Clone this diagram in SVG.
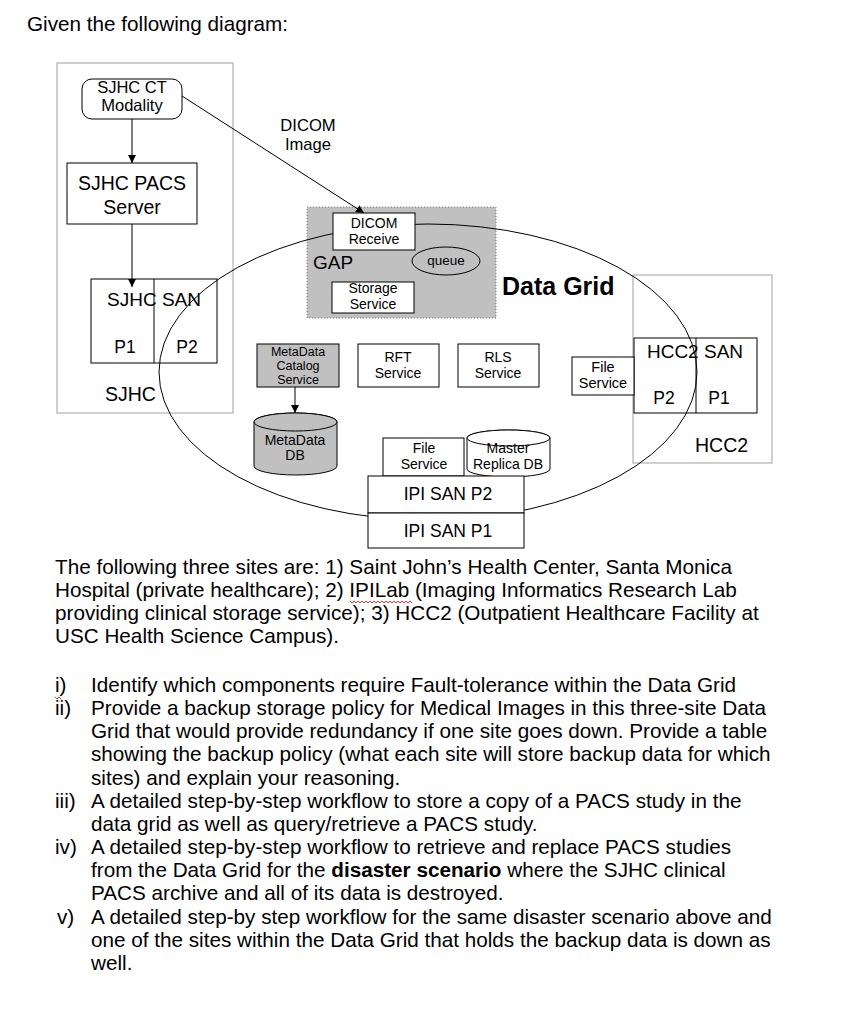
<svg xmlns="http://www.w3.org/2000/svg" width="844" height="1024" viewBox="0 0 844 1024">
<defs>
<style>
text{font-family:"Liberation Sans",Arial,sans-serif;fill:#000}
.c{text-anchor:middle}
.box{fill:#fff;stroke:#000;stroke-width:1}
.gbox{fill:#c0c0c0;stroke:#000;stroke-width:1}
.site{fill:none;stroke:#a0a0a0;stroke-width:1}
.ln{stroke:#000;stroke-width:1;fill:none}
.p{font-size:20.7px}
.sq{fill:none;stroke:#e00000;stroke-width:0.8}
</style>
<marker id="ah" viewBox="0 0 10 10" refX="10" refY="5" markerWidth="8" markerHeight="8" markerUnits="userSpaceOnUse" orient="auto">
<path d="M0,0 L10,5 L0,10 z" fill="#000"/>
</marker>
</defs>
<rect width="844" height="1024" fill="#fff"/>

<text class="p" x="27" y="31">Given the following diagram:</text>

<g id="site-sjhc">
<rect class="site" x="57" y="63" width="176" height="350"/>
<text x="105" y="401" font-size="19.5">SJHC</text>
</g>
<g id="site-hcc2">
<rect class="site" x="633" y="275" width="139" height="188"/>
<text x="695" y="452" font-size="19.5">HCC2</text>
</g>

<g id="gap">
<rect x="307" y="207" width="189" height="111" fill="#c0c0c0" stroke="#777" stroke-width="1" stroke-dasharray="1,2"/>
<text x="313" y="269" font-size="19">GAP</text>
</g>

<g id="sjhc-san">
<rect class="box" x="91" y="279" width="126" height="84"/>
<line class="ln" x1="154" y1="279" x2="154" y2="363"/>
<text class="c" x="154" y="306" font-size="19">SJHC SAN</text>
<text class="c" x="125" y="353" font-size="17.5">P1</text>
<text class="c" x="187" y="353" font-size="17.5">P2</text>
</g>

<g id="hcc2-san">
<rect class="box" x="634" y="338" width="123" height="75"/>
<line class="ln" x1="696" y1="338" x2="696" y2="413"/>
<text class="c" x="695" y="358" font-size="19">HCC2 SAN</text>
<text class="c" x="664" y="404" font-size="17.5">P2</text>
<text class="c" x="719" y="404" font-size="17.5">P1</text>
</g>

<g id="data-grid">
<ellipse cx="428" cy="372" rx="269" ry="148" fill="none" stroke="#000" stroke-width="1"/>
<text x="502" y="295" font-size="25" font-weight="bold">Data Grid</text>
</g>

<g id="sjhc-ct">
<rect class="box" x="82" y="79" width="100" height="40" rx="10" ry="10"/>
<text class="c" x="132" y="93" font-size="16.5">SJHC CT</text>
<text class="c" x="132" y="111" font-size="16.5">Modality</text>
</g>

<g id="sjhc-pacs">
<rect class="box" x="67" y="163" width="130" height="61"/>
<text class="c" x="132" y="190" font-size="19.5">SJHC PACS</text>
<text class="c" x="132" y="214" font-size="19.5">Server</text>
</g>

<g id="dicom-label">
<text class="c" x="308" y="131" font-size="16.6">DICOM</text>
<text class="c" x="308" y="150" font-size="16.6">Image</text>
</g>

<g id="dicom-receive">
<rect class="box" x="333" y="213" width="82" height="37"/>
<text class="c" x="374" y="228" font-size="14">DICOM</text>
<text class="c" x="374" y="244" font-size="14">Receive</text>
</g>

<g id="queue">
<ellipse cx="446" cy="261" rx="34" ry="14" fill="#c0c0c0" stroke="#000" stroke-width="1"/>
<text class="c" x="446" y="265" font-size="13.5">queue</text>
</g>

<g id="storage-service">
<rect class="box" x="332" y="282" width="82" height="31"/>
<text class="c" x="373" y="293" font-size="14">Storage</text>
<text class="c" x="373" y="309" font-size="14">Service</text>
</g>

<g id="metadata-catalog">
<rect class="gbox" x="257" y="344" width="82" height="43"/>
<text class="c" x="298" y="356" font-size="12.5">MetaData</text>
<text class="c" x="298" y="370" font-size="12.5">Catalog</text>
<text class="c" x="298" y="384" font-size="12.5">Service</text>
</g>

<g id="metadata-db">
<path class="gbox" d="M254,422 V466 A41.5,9 0 0 0 337,466 V422 A41.5,9 0 0 0 254,422 Z"/>
<ellipse cx="295.5" cy="422" rx="41.5" ry="9" fill="#c0c0c0" stroke="#000" stroke-width="1"/>
<text class="c" x="295" y="445" font-size="14">MetaData</text>
<text class="c" x="295" y="460" font-size="14">DB</text>
</g>

<g id="rft">
<rect class="box" x="358" y="344" width="81" height="43"/>
<text class="c" x="398" y="362" font-size="14">RFT</text>
<text class="c" x="398" y="378" font-size="14">Service</text>
</g>

<g id="rls">
<rect class="box" x="458" y="344" width="81" height="43"/>
<text class="c" x="498" y="362" font-size="14">RLS</text>
<text class="c" x="498" y="378" font-size="14">Service</text>
</g>

<g id="hcc2-file-service">
<rect class="box" x="572" y="357" width="62" height="38"/>
<text class="c" x="603" y="372" font-size="14.5">File</text>
<text class="c" x="603" y="388" font-size="14.5">Service</text>
</g>

<g id="ipi-file-service">
<rect class="box" x="383" y="438" width="81" height="38"/>
<text class="c" x="424" y="453" font-size="14">File</text>
<text class="c" x="424" y="469" font-size="14">Service</text>
</g>

<g id="master-replica-db">
<path class="box" d="M467,438 V469 A41.5,8 0 0 0 550,469 V438 A41.5,8 0 0 0 467,438 Z"/>
<ellipse cx="508.5" cy="438" rx="41.5" ry="8" fill="#fff" stroke="#000" stroke-width="1"/>
<text class="c" x="508" y="453" font-size="14">Master</text>
<text class="c" x="508" y="469" font-size="14">Replica DB</text>
</g>

<g id="ipi-san">
<rect class="box" x="368" y="476" width="156" height="37"/>
<rect class="box" x="368" y="513" width="156" height="35"/>
<text class="c" x="448" y="500" font-size="17.5">IPI SAN P2</text>
<text class="c" x="448" y="537" font-size="17.5">IPI SAN P1</text>
</g>

<g id="connectors">
<line class="ln" x1="132" y1="119" x2="132" y2="163" marker-end="url(#ah)"/>
<line class="ln" x1="132" y1="224" x2="132" y2="287" marker-end="url(#ah)"/>
<line class="ln" x1="182" y1="96" x2="364" y2="213" marker-end="url(#ah)"/>
<line class="ln" x1="295" y1="387" x2="295" y2="413" marker-end="url(#ah)"/>
</g>

<g id="text-body">
<text class="p" x="55" y="574">The following three sites are: 1) Saint John’s Health Center, Santa Monica</text>
<text class="p" x="55" y="597">Hospital (private healthcare); 2) IPILab (Imaging Informatics Research Lab</text>
<text class="p" x="55" y="620">providing clinical storage service); 3) HCC2 (Outpatient Healthcare Facility at</text>
<text class="p" x="55" y="643">USC Health Science Campus).</text>
<path class="sq" d="M350,601 l2,2 l2,-2 l2,2 l2,-2 l2,2 l2,-2 l2,2 l2,-2 l2,2 l2,-2 l2,2 l2,-2 l2,2 l2,-2 l2,2 l2,-2 l2,2 l2,-2 l2,2 l2,-2 l2,2 l2,-2 l2,2 l2,-2 l2,2 l2,-2 l2,2 l2,-2 l2,2 l2,-2 l2,2"/>

<text class="p" x="55" y="692">i)</text>
<path class="sq" d="M55,697 l2,2 l2,-2 l2,2"/>
<text class="p" x="91" y="692">Identify which components require Fault-tolerance within the Data Grid</text>
<text class="p" x="55" y="715">ii)</text>
<text class="p" x="91" y="715">Provide a backup storage policy for Medical Images in this three-site Data</text>
<text class="p" x="91" y="738">Grid that would provide redundancy if one site goes down.  Provide a table</text>
<text class="p" x="91" y="761">showing the backup policy (what each site will store backup data for which</text>
<text class="p" x="91" y="785">sites) and explain your reasoning.</text>
<text class="p" x="55" y="808">iii)</text>
<text class="p" x="91" y="808">A detailed step-by-step workflow to store a copy of a PACS study in the</text>
<text class="p" x="91" y="831">data grid as well as query/retrieve a PACS study.</text>
<text class="p" x="55" y="854">iv)</text>
<text class="p" x="91" y="854">A detailed step-by-step workflow to retrieve and replace PACS studies</text>
<text class="p" x="91" y="877">from the Data Grid for the <tspan font-weight="bold">disaster scenario</tspan> where the SJHC clinical</text>
<text class="p" x="91" y="900">PACS archive and all of its data is destroyed.</text>
<text class="p" x="57" y="924">v)</text>
<text class="p" x="91" y="924">A detailed step-by step workflow for the same disaster scenario above and</text>
<text class="p" x="91" y="947">one of the sites within the Data Grid that holds the backup data is down as</text>
<text class="p" x="91" y="970">well.</text>
</g>
</svg>
